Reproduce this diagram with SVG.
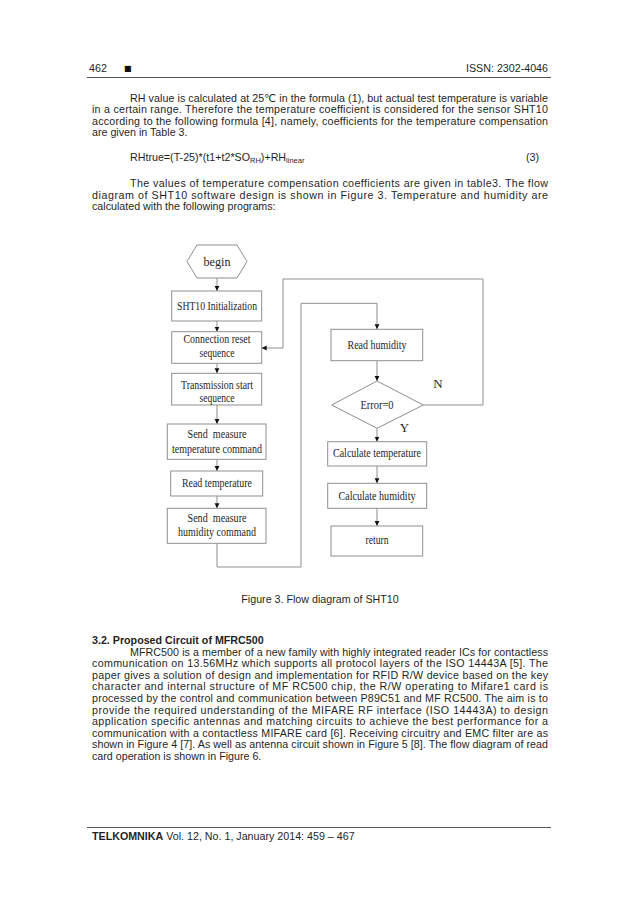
<svg xmlns="http://www.w3.org/2000/svg" width="638" height="903" viewBox="0 0 638 903">
<style>
.body{font-family:"Liberation Sans",Arial,"DejaVu Sans",sans-serif;font-size:10.7px;fill:#1f1f1f}
.bold{font-weight:bold}
.fc{font-family:"Liberation Serif","Times New Roman",serif;font-size:13px;fill:#262626;text-anchor:middle}
.box{fill:#fff;stroke:#8f8f8f;stroke-width:1}
.conn{fill:none;stroke:#8f8f8f;stroke-width:1}
.rule{stroke:#555;stroke-width:1}
</style>
<defs>
<marker id="ah" markerWidth="6" markerHeight="6" refX="5" refY="3" orient="auto" markerUnits="userSpaceOnUse">
<path d="M0,0.6 L5,3 L0,5.4 z" fill="#111"/>
</marker>
</defs>
<rect width="638" height="903" fill="#fff"/>

<!-- header -->
<text class="body" x="89" y="71.5">462</text>
<text x="124" y="71" style="font-family:'DejaVu Sans',sans-serif;font-size:8px;fill:#111">■</text>
<text class="body" x="548" y="71.5" text-anchor="end">ISSN: 2302-4046</text>
<line class="rule" x1="87" y1="77.5" x2="551" y2="77.5"/>

<!-- paragraph 1 -->
<text class="body" x="130" y="101.5" textLength="418">RH value is calculated at 25℃ in the formula (1), but actual test temperature is variable</text>
<text class="body" x="92" y="113" textLength="456">in a certain range. Therefore the temperature coefficient is considered for the sensor SHT10</text>
<text class="body" x="92" y="124.7" textLength="456">according to the following formula [4], namely, coefficients for the temperature compensation</text>
<text class="body" x="92" y="136.3">are given in Table 3.</text>

<!-- formula -->
<text class="body" x="130" y="161">RHtrue=(T-25)*(t1+t2*SO<tspan font-size="7.5" dy="2">RH</tspan><tspan dy="-2">)+RH</tspan><tspan font-size="7.5" dy="2">linear</tspan></text>
<text class="body" x="539" y="161" text-anchor="end">(3)</text>

<!-- paragraph 2 -->
<text class="body" x="130" y="187" textLength="418">The values of temperature compensation coefficients are given in table3. The flow</text>
<text class="body" x="92" y="198.5" textLength="456">diagram of SHT10 software design is shown in Figure 3. Temperature and humidity are</text>
<text class="body" x="92" y="210">calculated with the following programs:</text>

<!-- flowchart connectors -->
<g id="connectors">
<path class="conn" d="M217,278 V291" marker-end="url(#ah)"/>
<path class="conn" d="M217,321 V331.7" marker-end="url(#ah)"/>
<path class="conn" d="M217,363.3 V373.3" marker-end="url(#ah)"/>
<path class="conn" d="M217,405 V424" marker-end="url(#ah)"/>
<path class="conn" d="M217,459.3 V471" marker-end="url(#ah)"/>
<path class="conn" d="M217,496 V508.3" marker-end="url(#ah)"/>
<path class="conn" d="M217,543.3 V567 H301 V303.3 H377 V329.3" marker-end="url(#ah)"/>
<path class="conn" d="M377,360.7 V381" marker-end="url(#ah)"/>
<path class="conn" d="M423.3,405 H483 V279 H283 V348 H261.7" marker-end="url(#ah)"/>
<path class="conn" d="M377,428.3 V441.7" marker-end="url(#ah)"/>
<path class="conn" d="M377,466 V483.3" marker-end="url(#ah)"/>
<path class="conn" d="M377,508.3 V526" marker-end="url(#ah)"/>
</g>

<!-- flowchart nodes -->
<g id="begin">
<polygon class="box" points="187,261.5 197,245 237,245 247,261.5 237,278 197,278"/>
<text class="fc" x="217" y="265.5" font-size="12.5" textLength="27" lengthAdjust="spacingAndGlyphs">begin</text>
</g>
<g id="init">
<rect class="box" x="171.7" y="291" width="90" height="30"/>
<text class="fc" x="217" y="310" textLength="80" lengthAdjust="spacingAndGlyphs">SHT10 Initialization</text>
</g>
<g id="reset">
<rect class="box" x="171.7" y="331.7" width="90" height="31.6"/>
<text class="fc" x="217" y="343" textLength="67" lengthAdjust="spacingAndGlyphs">Connection reset</text>
<text class="fc" x="217" y="357" textLength="35" lengthAdjust="spacingAndGlyphs">sequence</text>
</g>
<g id="start">
<rect class="box" x="171.7" y="373.3" width="90" height="31.7"/>
<text class="fc" x="217" y="388.5" textLength="72" lengthAdjust="spacingAndGlyphs">Transmission start</text>
<text class="fc" x="217" y="402" textLength="35" lengthAdjust="spacingAndGlyphs">sequence</text>
</g>
<g id="send-temp">
<rect class="box" x="167.3" y="424" width="98.7" height="35.3"/>
<text class="fc" x="217" y="438.3" textLength="59" lengthAdjust="spacingAndGlyphs" style="white-space:pre">Send  measure</text>
<text class="fc" x="217" y="452.7" textLength="90" lengthAdjust="spacingAndGlyphs">temperature command</text>
</g>
<g id="read-temp">
<rect class="box" x="170.7" y="471" width="92" height="25"/>
<text class="fc" x="217" y="487" textLength="70" lengthAdjust="spacingAndGlyphs">Read temperature</text>
</g>
<g id="send-hum">
<rect class="box" x="167.3" y="508.3" width="98.7" height="35"/>
<text class="fc" x="217" y="521.7" textLength="59" lengthAdjust="spacingAndGlyphs" style="white-space:pre">Send  measure</text>
<text class="fc" x="217" y="536" textLength="78" lengthAdjust="spacingAndGlyphs">humidity command</text>
</g>
<g id="read-hum">
<rect class="box" x="331" y="329.3" width="91.7" height="31.4"/>
<text class="fc" x="377" y="349.3" textLength="59" lengthAdjust="spacingAndGlyphs">Read humidity</text>
</g>
<g id="error-check">
<polygon class="box" points="377,381 423.3,405 377,428.3 331.7,405"/>
<text class="fc" x="377" y="409.3" textLength="33" lengthAdjust="spacingAndGlyphs">Error=0</text>
<text class="fc" x="438" y="388.3">N</text>
<text class="fc" x="404.5" y="431.7">Y</text>
</g>
<g id="calc-temp">
<rect class="box" x="327.7" y="441.7" width="99" height="24.3"/>
<text class="fc" x="377" y="457.3" textLength="88" lengthAdjust="spacingAndGlyphs">Calculate temperature</text>
</g>
<g id="calc-hum">
<rect class="box" x="327.7" y="483.3" width="99" height="25"/>
<text class="fc" x="377" y="499.5" textLength="77" lengthAdjust="spacingAndGlyphs">Calculate humidity</text>
</g>
<g id="return">
<rect class="box" x="331" y="526" width="91.7" height="30"/>
<text class="fc" x="377" y="543.5" textLength="23" lengthAdjust="spacingAndGlyphs">return</text>
</g>

<!-- caption -->
<text class="body" x="320" y="603" text-anchor="middle">Figure 3. Flow diagram of SHT10</text>

<!-- section 3.2 -->
<text class="body bold" x="92" y="644">3.2. Proposed Circuit of MFRC500</text>
<text class="body" x="130" y="655.5" textLength="418">MFRC500 is a member of a new family with highly integrated reader ICs for contactless</text>
<text class="body" x="92" y="667.1" textLength="456">communication on 13.56MHz which supports all protocol layers of the ISO 14443A [5]. The</text>
<text class="body" x="92" y="678.7" textLength="456">paper gives a solution of design and implementation for RFID R/W device based on the key</text>
<text class="body" x="92" y="690.3" textLength="456">character and internal structure of MF RC500 chip, the R/W operating to Mifare1 card is</text>
<text class="body" x="92" y="701.9" textLength="456">processed by the control and communication between P89C51 and MF RC500. The aim is to</text>
<text class="body" x="92" y="713.5" textLength="456">provide the required understanding of the MIFARE RF interface (ISO 14443A) to design</text>
<text class="body" x="92" y="725.1" textLength="456">application specific antennas and matching circuits to achieve the best performance for a</text>
<text class="body" x="92" y="736.7" textLength="456">communication with a contactless MIFARE card [6]. Receiving circuitry and EMC filter are as</text>
<text class="body" x="92" y="748.3" textLength="456">shown in Figure 4 [7]. As well as antenna circuit shown in Figure 5 [8]. The flow diagram of read</text>
<text class="body" x="92" y="759.9">card operation is shown in Figure 6.</text>

<!-- footer -->
<line class="rule" x1="87" y1="827.5" x2="551" y2="827.5"/>
<text class="body" x="92" y="839.5"><tspan class="bold">TELKOMNIKA</tspan> Vol. 12, No. 1, January 2014:  459 – 467</text>
</svg>
